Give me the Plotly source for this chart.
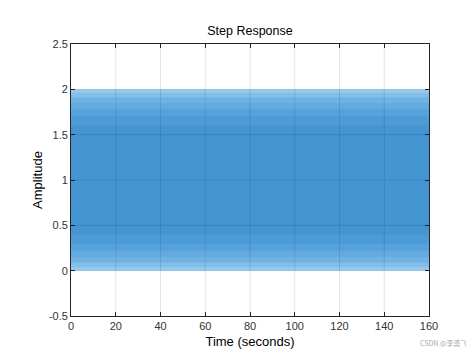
import plotly.graph_objects as go

# Time span of the step response (seconds)
time_span = [0, 160]
# Envelope of the dense oscillation (outer -> inner)
band_lower = [0.0, 0.04, 0.09, 0.15, 0.22, 0.30, 0.40]
band_upper = [2.0, 1.96, 1.91, 1.85, 1.78, 1.70, 1.60]
band_colors = ["#94c8ec", "#82bee8", "#70b3e3", "#62aadf", "#56a2da", "#4c9bd6", "#4595d2"]

x_ticks = [0, 20, 40, 60, 80, 100, 120, 140, 160]
y_ticks = [-0.5, 0, 0.5, 1, 1.5, 2, 2.5]

fig = go.Figure()
for lo, hi, col in zip(band_lower, band_upper, band_colors):
    fig.add_trace(go.Scatter(x=time_span, y=[lo, lo], mode="lines",
                             line=dict(width=0, color=col), showlegend=False,
                             hoverinfo="skip"))
    fig.add_trace(go.Scatter(x=time_span, y=[hi, hi], mode="lines",
                             line=dict(width=0, color=col), fill="tonexty",
                             fillcolor=col, showlegend=False, hoverinfo="skip"))

# grid drawn above the data, as MATLAB does (faint through the response band)
grid_color = "rgba(0,0,0,0.10)"
grid_shapes = []
for xv in x_ticks[1:-1]:
    grid_shapes.append(dict(type="line", xref="x", yref="paper", x0=xv, x1=xv, y0=0, y1=1,
                            line=dict(color=grid_color, width=1), layer="above"))
for yv in y_ticks[1:-1]:
    grid_shapes.append(dict(type="line", xref="paper", yref="y", x0=0, x1=1, y0=yv, y1=yv,
                            line=dict(color=grid_color, width=1), layer="above"))

axis_common = dict(showline=True, linecolor="#262626", linewidth=0.8, mirror="ticks",
                   ticks="inside", ticklen=4, tickcolor="#262626",
                   showgrid=False, zeroline=False, layer="above traces", automargin=False,
                   tickfont=dict(family="Liberation Sans, Arial", size=11, color="#333333"))

fig.update_xaxes(range=[0, 160], tickvals=x_ticks, ticktext=[str(v) for v in x_ticks],
                 title=dict(text="Time (seconds)", standoff=5,
                            font=dict(family="Liberation Sans, Arial", size=13, color="#000000")),
                 **axis_common)
fig.update_yaxes(range=[-0.5, 2.5], tickvals=y_ticks, ticktext=[str(v) for v in y_ticks],
                 title=dict(text="Amplitude", standoff=3,
                            font=dict(family="Liberation Sans, Arial", size=13, color="#000000")),
                 **axis_common)

fig.update_layout(
    width=466, height=348,
    margin=dict(l=63, r=45, t=36, b=40, autoexpand=False),
    paper_bgcolor="white", plot_bgcolor="white",
    shapes=grid_shapes,
    title=dict(text="Step Response", x=0.5, xref="paper", xanchor="center",
               y=1, yref="paper", yanchor="bottom", pad=dict(b=9),
               font=dict(family="Liberation Sans, Arial", size=12.5, color="#000000")),
    annotations=[dict(text="CSDN @李勇飞", x=1.0, y=0.0, xref="paper", yref="paper",
                      xanchor="right", yanchor="middle", xshift=41, yshift=-27,
                      showarrow=False,
                      font=dict(family="Noto Sans CJK SC", size=7, color="#aaaaaa"))],
)

fig.write_html("out.html")
